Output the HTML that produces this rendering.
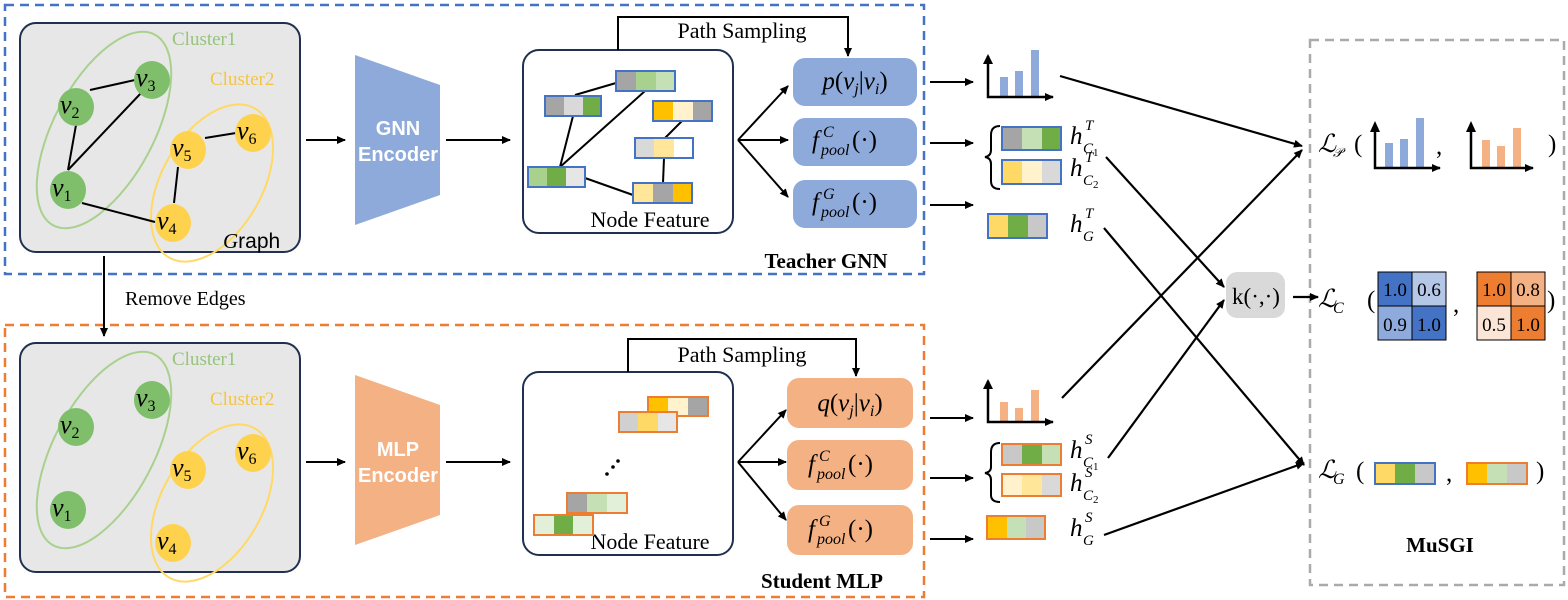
<!DOCTYPE html>
<html><head><meta charset="utf-8"><style>
html,body{margin:0;padding:0;background:#fff}
svg{display:block}
text{font-family:"Liberation Serif","DejaVu Serif",serif}
.it{font-style:italic}
.sans{font-family:"Liberation Sans",sans-serif}
</style></head><body>
<svg width="1568" height="600" viewBox="0 0 1568 600" xmlns="http://www.w3.org/2000/svg">
<defs>
<marker id="ar" markerWidth="10" markerHeight="10" refX="8" refY="5" orient="auto" markerUnits="userSpaceOnUse"><path d="M0,1 L9,5 L0,9 Z" fill="#000"/></marker>
</defs>

<rect x="5" y="5" width="919" height="269" fill="none" stroke="#4472c4" stroke-width="2.5" stroke-dasharray="9,6"/>
<rect x="5" y="325" width="919" height="272" fill="none" stroke="#ed7d31" stroke-width="2.5" stroke-dasharray="9,6"/>
<rect x="1310" y="40" width="254" height="545" fill="none" stroke="#aaa" stroke-width="2.5" stroke-dasharray="9,6"/>

<!-- Teacher graph -->
<rect x="20" y="23" width="280" height="229" rx="16" fill="#e7e7e7" stroke="#1f3050" stroke-width="2"/>
<ellipse cx="104" cy="130" rx="50" ry="108" transform="rotate(28 104 130)" fill="none" stroke="#a9d18e" stroke-width="2"/>
<ellipse cx="212" cy="183" rx="50" ry="86" transform="rotate(30 212 183)" fill="none" stroke="#ffd966" stroke-width="2"/>
<text x="172" y="45" font-size="19" fill="#95c47a">Cluster1</text>
<text x="210" y="85" font-size="19" fill="#f5c540">Cluster2</text>
<g stroke="#000" stroke-width="2">
<line x1="90" y1="90" x2="135" y2="80"/><line x1="76" y1="125" x2="68" y2="170"/><line x1="68" y1="170" x2="142" y2="92"/>
<line x1="82" y1="203" x2="155" y2="222"/><line x1="178" y1="167" x2="174" y2="203"/><line x1="205" y1="138" x2="236" y2="133"/>
</g>
<g fill="#7fbf6b"><ellipse cx="76" cy="107" rx="18" ry="19"/><ellipse cx="152" cy="80" rx="18" ry="19"/><ellipse cx="68" cy="190" rx="18" ry="19"/></g>
<g fill="#ffd24d"><ellipse cx="188" cy="150" rx="18" ry="19"/><ellipse cx="253" cy="133" rx="18" ry="19"/><ellipse cx="173" cy="223" rx="18" ry="19"/></g>
<g font-size="26" class="it">
<text x="60" y="113">v<tspan font-size="16" dy="5" font-style="normal">2</tspan></text>
<text x="136" y="86">v<tspan font-size="16" dy="5" font-style="normal">3</tspan></text>
<text x="52" y="196">v<tspan font-size="16" dy="5" font-style="normal">1</tspan></text>
<text x="172" y="156">v<tspan font-size="16" dy="5" font-style="normal">5</tspan></text>
<text x="237" y="139">v<tspan font-size="16" dy="5" font-style="normal">6</tspan></text>
<text x="157" y="229">v<tspan font-size="16" dy="5" font-style="normal">4</tspan></text>
</g>
<text x="223" y="248" font-size="21" class="sans"><tspan class="it" font-family="Liberation Serif">G</tspan>raph</text>

<!-- Student graph -->
<rect x="20" y="343" width="280" height="229" rx="16" fill="#e7e7e7" stroke="#1f3050" stroke-width="2"/>
<ellipse cx="104" cy="450" rx="50" ry="108" transform="rotate(28 104 450)" fill="none" stroke="#a9d18e" stroke-width="2"/>
<ellipse cx="212" cy="503" rx="50" ry="86" transform="rotate(30 212 503)" fill="none" stroke="#ffd966" stroke-width="2"/>
<text x="172" y="365" font-size="19" fill="#95c47a">Cluster1</text>
<text x="210" y="405" font-size="19" fill="#f5c540">Cluster2</text>
<g fill="#7fbf6b"><ellipse cx="76" cy="427" rx="18" ry="19"/><ellipse cx="152" cy="400" rx="18" ry="19"/><ellipse cx="68" cy="510" rx="18" ry="19"/></g>
<g fill="#ffd24d"><ellipse cx="188" cy="470" rx="18" ry="19"/><ellipse cx="253" cy="453" rx="18" ry="19"/><ellipse cx="173" cy="543" rx="18" ry="19"/></g>
<g font-size="26" class="it">
<text x="60" y="433">v<tspan font-size="16" dy="5" font-style="normal">2</tspan></text>
<text x="136" y="406">v<tspan font-size="16" dy="5" font-style="normal">3</tspan></text>
<text x="52" y="516">v<tspan font-size="16" dy="5" font-style="normal">1</tspan></text>
<text x="172" y="476">v<tspan font-size="16" dy="5" font-style="normal">5</tspan></text>
<text x="237" y="459">v<tspan font-size="16" dy="5" font-style="normal">6</tspan></text>
<text x="157" y="549">v<tspan font-size="16" dy="5" font-style="normal">4</tspan></text>
</g>

<line x1="104" y1="256" x2="104" y2="336" stroke="#000" stroke-width="2" marker-end="url(#ar)"/>
<text x="125" y="305" font-size="20">Remove Edges</text>

<!-- encoders -->
<polygon points="355,55 440,85 440,195 355,225" fill="#8eaadb"/>
<text x="398" y="135" font-size="20" font-weight="bold" fill="#fff" text-anchor="middle" class="sans">GNN</text>
<text x="398" y="161" font-size="20" font-weight="bold" fill="#fff" text-anchor="middle" class="sans">Encoder</text>
<polygon points="355,375 440,405 440,515 355,545" fill="#f4b183"/>
<text x="398" y="456" font-size="20" font-weight="bold" fill="#fff" text-anchor="middle" class="sans">MLP</text>
<text x="398" y="482" font-size="20" font-weight="bold" fill="#fff" text-anchor="middle" class="sans">Encoder</text>

<g stroke="#000" stroke-width="2" marker-end="url(#ar)">
<line x1="306" y1="140" x2="345" y2="140"/><line x1="446" y1="140" x2="510" y2="140"/>
<line x1="306" y1="462" x2="345" y2="462"/><line x1="446" y1="462" x2="510" y2="462"/>
</g>

<rect x="523" y="50" width="210" height="183" rx="16" fill="#fff" stroke="#1f3050" stroke-width="2"/>
<rect x="523" y="372" width="210" height="183" rx="16" fill="#fff" stroke="#1f3050" stroke-width="2"/>
<text x="650" y="227" font-size="22" text-anchor="middle">Node Feature</text>
<text x="650" y="549" font-size="22" text-anchor="middle">Node Feature</text>

<g stroke="#000" stroke-width="2">
<line x1="575" y1="95" x2="616" y2="83"/><line x1="573" y1="116" x2="560" y2="167"/><line x1="560" y1="167" x2="645" y2="91"/>
<line x1="682" y1="121" x2="665" y2="138"/><line x1="664" y1="158" x2="663" y2="183"/><line x1="585" y1="178" x2="633" y2="195"/>
</g>
<rect x="616" y="71" width="20" height="20" fill="#a5a5a5"/><rect x="636" y="71" width="20" height="20" fill="#a9d18e"/><rect x="656" y="71" width="19" height="20" fill="#c5e0b4"/>
<rect x="545" y="96" width="19" height="20" fill="#a5a5a5"/><rect x="564" y="96" width="19" height="20" fill="#d9d9d9"/><rect x="583" y="96" width="18" height="20" fill="#70ad47"/>
<rect x="653" y="101" width="20" height="20" fill="#ffc000"/><rect x="673" y="101" width="20" height="20" fill="#fff2cc"/><rect x="693" y="101" width="19" height="20" fill="#a5a5a5"/>
<rect x="635" y="138" width="19" height="20" fill="#d9d9d9"/><rect x="654" y="138" width="20" height="20" fill="#ffe699"/><rect x="674" y="138" width="19" height="20" fill="#fff"/>
<rect x="528" y="167" width="19" height="20" fill="#a9d18e"/><rect x="547" y="167" width="19" height="20" fill="#70ad47"/><rect x="566" y="167" width="19" height="20" fill="#e7e6e6"/>
<rect x="633" y="183" width="20" height="20" fill="#ffe699"/><rect x="653" y="183" width="20" height="20" fill="#a5a5a5"/><rect x="673" y="183" width="19" height="20" fill="#ffc000"/>
<g fill="none" stroke="#4472c4" stroke-width="2">
<rect x="616" y="71" width="59" height="20"/><rect x="545" y="96" width="56" height="20"/><rect x="653" y="101" width="59" height="20"/>
<rect x="635" y="138" width="58" height="20"/><rect x="528" y="167" width="57" height="20"/><rect x="633" y="183" width="59" height="20"/>
</g>

<rect x="648" y="397" width="20" height="19" fill="#ffc000"/><rect x="668" y="397" width="20" height="19" fill="#fff2cc"/><rect x="688" y="397" width="20" height="19" fill="#a5a5a5"/>
<rect x="648" y="397" width="60" height="19" fill="none" stroke="#ed7d31" stroke-width="2"/>
<rect x="619" y="412" width="19" height="20" fill="#d0d0d0"/><rect x="638" y="412" width="20" height="20" fill="#ffd966"/><rect x="658" y="412" width="19" height="20" fill="#e6e6e6"/>
<rect x="619" y="412" width="58" height="20" fill="none" stroke="#ed7d31" stroke-width="2"/>
<circle cx="618" cy="461" r="1.8"/><circle cx="613" cy="467" r="1.8"/><circle cx="607" cy="474" r="1.8"/>
<rect x="567" y="493" width="20" height="20" fill="#a5a5a5"/><rect x="587" y="493" width="20" height="20" fill="#c5e0b4"/><rect x="607" y="493" width="20" height="20" fill="#e2f0d9"/>
<rect x="567" y="493" width="60" height="20" fill="none" stroke="#ed7d31" stroke-width="2"/>
<rect x="534" y="515" width="20" height="20" fill="#e2f0d9"/><rect x="554" y="515" width="19" height="20" fill="#70ad47"/><rect x="573" y="515" width="20" height="20" fill="#e2f0d9"/>
<rect x="534" y="515" width="59" height="20" fill="none" stroke="#ed7d31" stroke-width="2"/>

<polyline points="618,50 618,17 848,17 848,56" fill="none" stroke="#000" stroke-width="2" marker-end="url(#ar)"/>
<text x="742" y="38" font-size="22" text-anchor="middle">Path Sampling</text>
<polyline points="628,372 628,339 856,339 856,376" fill="none" stroke="#000" stroke-width="2" marker-end="url(#ar)"/>
<text x="742" y="362" font-size="22" text-anchor="middle">Path Sampling</text>

<g stroke="#000" stroke-width="2" marker-end="url(#ar)">
<line x1="738" y1="140" x2="788" y2="86"/><line x1="738" y1="140" x2="788" y2="140"/><line x1="738" y1="140" x2="788" y2="197"/>
<line x1="738" y1="462" x2="786" y2="410"/><line x1="738" y1="462" x2="786" y2="462"/><line x1="738" y1="462" x2="786" y2="520"/>
</g>

<rect x="793" y="58" width="124" height="48" rx="12" fill="#8eaadb"/>
<rect x="793" y="118" width="124" height="48" rx="12" fill="#8eaadb"/>
<rect x="793" y="180" width="124" height="48" rx="12" fill="#8eaadb"/>
<rect x="787" y="378" width="126" height="50" rx="12" fill="#f4b183"/>
<rect x="787" y="440" width="126" height="50" rx="12" fill="#f4b183"/>
<rect x="787" y="505" width="126" height="50" rx="12" fill="#f4b183"/>
<g font-size="25">
<text x="855" y="89" text-anchor="middle"><tspan class="it">p</tspan>(<tspan class="it">v</tspan><tspan class="it" font-size="16" dy="5">j</tspan><tspan dy="-5">|</tspan><tspan class="it">v</tspan><tspan class="it" font-size="16" dy="5">i</tspan><tspan dy="-5">)</tspan></text>
<text x="850" y="411" text-anchor="middle"><tspan class="it">q</tspan>(<tspan class="it">v</tspan><tspan class="it" font-size="16" dy="5">j</tspan><tspan dy="-5">|</tspan><tspan class="it">v</tspan><tspan class="it" font-size="16" dy="5">i</tspan><tspan dy="-5">)</tspan></text>
</g>
<g font-size="25">
<text x="812" y="148" class="it">f</text><text x="823" y="137" font-size="16" class="it">C</text><text x="821" y="155" font-size="16" class="it">pool</text><text x="852" y="148">(·)</text>
<text x="812" y="210" class="it">f</text><text x="823" y="199" font-size="16" class="it">G</text><text x="821" y="217" font-size="16" class="it">pool</text><text x="852" y="210">(·)</text>
<text x="808" y="472" class="it">f</text><text x="819" y="461" font-size="16" class="it">C</text><text x="817" y="479" font-size="16" class="it">pool</text><text x="848" y="472">(·)</text>
<text x="808" y="537" class="it">f</text><text x="819" y="526" font-size="16" class="it">G</text><text x="817" y="544" font-size="16" class="it">pool</text><text x="848" y="537">(·)</text>
</g>
<text x="826" y="268" font-size="21" font-weight="bold" text-anchor="middle">Teacher GNN</text>
<text x="822" y="588" font-size="21" font-weight="bold" text-anchor="middle">Student MLP</text>

<g stroke="#000" stroke-width="2" marker-end="url(#ar)">
<line x1="930" y1="82" x2="973" y2="82"/><line x1="930" y1="143" x2="973" y2="143"/><line x1="930" y1="205" x2="973" y2="205"/>
<line x1="930" y1="418" x2="973" y2="418"/><line x1="930" y1="478" x2="973" y2="478"/><line x1="930" y1="539" x2="973" y2="539"/>
</g>

<rect x="1000" y="77" width="8" height="19" fill="#8eaadb"/><rect x="1015" y="71" width="8" height="25" fill="#8eaadb"/><rect x="1031" y="50" width="8" height="46" fill="#8eaadb"/>
<polyline points="988,56 988,97 1053,97" fill="none" stroke="#000" stroke-width="2.5" marker-end="url(#ar)"/>
<path d="M983,64 L988,54 L993,64 Z"/>
<rect x="1000" y="402" width="8" height="19" fill="#f4b183"/><rect x="1015" y="408" width="8" height="13" fill="#f4b183"/><rect x="1031" y="390" width="8" height="31" fill="#f4b183"/>
<polyline points="988,381 988,422 1053,422" fill="none" stroke="#000" stroke-width="2.5" marker-end="url(#ar)"/>
<path d="M983,389 L988,379 L993,389 Z"/>

<path d="M1000,126 Q991,126 991,135 L991,150 Q991,156 985,157 Q991,158 991,164 L991,181 Q991,189 1000,189" fill="none" stroke="#000" stroke-width="2"/>
<path d="M1000,443 Q991,443 991,452 L991,467 Q991,472 985,473 Q991,474 991,480 L991,495 Q991,502 1000,502" fill="none" stroke="#000" stroke-width="2"/>

<rect x="1002" y="127" width="20" height="23" fill="#a5a5a5"/><rect x="1022" y="127" width="20" height="23" fill="#c5e0b4"/><rect x="1042" y="127" width="19" height="23" fill="#70ad47"/>
<rect x="1002" y="127" width="59" height="23" fill="none" stroke="#4472c4" stroke-width="2"/>
<rect x="1002" y="160" width="20" height="24" fill="#ffd966"/><rect x="1022" y="160" width="20" height="24" fill="#fff2cc"/><rect x="1042" y="160" width="19" height="24" fill="#d9d9d9"/>
<rect x="1002" y="160" width="59" height="24" fill="none" stroke="#4472c4" stroke-width="2"/>
<rect x="988" y="214" width="20" height="24" fill="#ffd966"/><rect x="1008" y="214" width="20" height="24" fill="#70ad47"/><rect x="1028" y="214" width="19" height="24" fill="#c8c8c8"/>
<rect x="988" y="214" width="59" height="24" fill="none" stroke="#4472c4" stroke-width="2"/>

<rect x="1002" y="444" width="20" height="21" fill="#c8c8c8"/><rect x="1022" y="444" width="20" height="21" fill="#70ad47"/><rect x="1042" y="444" width="19" height="21" fill="#c5e0b4"/>
<rect x="1002" y="444" width="59" height="21" fill="none" stroke="#ed7d31" stroke-width="2"/>
<rect x="1002" y="474" width="20" height="22" fill="#fff2cc"/><rect x="1022" y="474" width="20" height="22" fill="#ffe699"/><rect x="1042" y="474" width="19" height="22" fill="#d9d9d9"/>
<rect x="1002" y="474" width="59" height="22" fill="none" stroke="#ed7d31" stroke-width="2"/>
<rect x="987" y="516" width="20" height="23" fill="#ffc000"/><rect x="1007" y="516" width="19" height="23" fill="#c5e0b4"/><rect x="1026" y="516" width="19" height="23" fill="#c8c8c8"/>
<rect x="987" y="516" width="58" height="23" fill="none" stroke="#ed7d31" stroke-width="2"/>

<!-- h labels -->
<g class="it">
<text x="1070" y="144" font-size="25">h</text><text x="1085" y="130" font-size="15">T</text><text x="1083" y="153" font-size="15">C<tspan font-size="11" dy="3" font-style="normal">1</tspan></text>
<text x="1070" y="176" font-size="25">h</text><text x="1085" y="162" font-size="15">T</text><text x="1083" y="185" font-size="15">C<tspan font-size="11" dy="3" font-style="normal">2</tspan></text>
<text x="1070" y="232" font-size="25">h</text><text x="1085" y="218" font-size="15">T</text><text x="1083" y="241" font-size="15">G</text>
<text x="1070" y="458" font-size="25">h</text><text x="1085" y="444" font-size="15">S</text><text x="1083" y="467" font-size="15">C<tspan font-size="11" dy="3" font-style="normal">1</tspan></text>
<text x="1070" y="491" font-size="25">h</text><text x="1085" y="477" font-size="15">S</text><text x="1083" y="500" font-size="15">C<tspan font-size="11" dy="3" font-style="normal">2</tspan></text>
<text x="1070" y="536" font-size="25">h</text><text x="1085" y="522" font-size="15">S</text><text x="1083" y="545" font-size="15">G</text>
</g>

<g stroke="#000" stroke-width="2.2" marker-end="url(#ar)">
<line x1="1060" y1="76" x2="1302" y2="146"/>
<line x1="1062" y1="398" x2="1302" y2="150"/>
<line x1="1106" y1="157" x2="1224" y2="287"/>
<line x1="1108" y1="458" x2="1224" y2="300"/>
<line x1="1104" y1="228" x2="1304" y2="465"/>
<line x1="1104" y1="535" x2="1304" y2="463"/>
<line x1="1293" y1="297" x2="1318" y2="297"/>
</g>
<rect x="1226" y="272" width="59" height="46" rx="11" fill="#d9d9d9"/>
<text x="1256" y="304" font-size="23" text-anchor="middle">k(·,·)</text>

<g font-size="25">
<text x="1318" y="152" class="it">ℒ</text><text x="1333" y="157" font-size="13" class="it">𝒫</text>
<text x="1354" y="152">(</text>
<text x="1436" y="154">,</text>
<text x="1548" y="152">)</text>
<text x="1318" y="307" class="it">ℒ</text><text x="1333" y="313" font-size="16" class="it">C</text>
<text x="1367" y="308">(</text>
<text x="1453" y="312">,</text>
<text x="1547" y="308">)</text>
<text x="1318" y="478" class="it">ℒ</text><text x="1333" y="484" font-size="16" class="it">G</text>
<text x="1356" y="479">(</text>
<text x="1446" y="481">,</text>
<text x="1536" y="479">)</text>
</g>
<rect x="1385" y="143" width="8" height="25" fill="#8eaadb"/><rect x="1400" y="139" width="8" height="29" fill="#8eaadb"/><rect x="1416" y="118" width="8" height="50" fill="#8eaadb"/>
<polyline points="1375,124 1375,168 1440,168" fill="none" stroke="#000" stroke-width="2.5" marker-end="url(#ar)"/><path d="M1370,132 L1375,121 L1380,132 Z"/>
<rect x="1482" y="140" width="8" height="28" fill="#f4b183"/><rect x="1497" y="146" width="8" height="22" fill="#f4b183"/><rect x="1513" y="128" width="8" height="40" fill="#f4b183"/>
<polyline points="1471,124 1471,168 1533,168" fill="none" stroke="#000" stroke-width="2.5" marker-end="url(#ar)"/><path d="M1466,132 L1471,121 L1476,132 Z"/>
<g font-size="19" text-anchor="middle">
<rect x="1378" y="272" width="34" height="34" fill="#4472c4" stroke="#000" stroke-width="1"/><rect x="1412" y="272" width="34" height="34" fill="#b4c7e7" stroke="#000" stroke-width="1"/>
<rect x="1378" y="306" width="34" height="34" fill="#8faadc" stroke="#000" stroke-width="1"/><rect x="1412" y="306" width="34" height="34" fill="#4472c4" stroke="#000" stroke-width="1"/>
<text x="1395" y="296">1.0</text><text x="1429" y="296">0.6</text><text x="1395" y="331">0.9</text><text x="1429" y="331">1.0</text>
<rect x="1477" y="272" width="34" height="34" fill="#ed7d31" stroke="#000" stroke-width="1"/><rect x="1511" y="272" width="34" height="34" fill="#f4b183" stroke="#000" stroke-width="1"/>
<rect x="1477" y="306" width="34" height="34" fill="#fbe5d6" stroke="#000" stroke-width="1"/><rect x="1511" y="306" width="34" height="34" fill="#ed7d31" stroke="#000" stroke-width="1"/>
<text x="1494" y="296">1.0</text><text x="1528" y="296">0.8</text><text x="1494" y="331">0.5</text><text x="1528" y="331">1.0</text>
</g>
<rect x="1375" y="463" width="20" height="21" fill="#ffd966"/><rect x="1395" y="463" width="20" height="21" fill="#70ad47"/><rect x="1415" y="463" width="20" height="21" fill="#c8c8c8"/>
<rect x="1375" y="463" width="60" height="21" fill="none" stroke="#4472c4" stroke-width="2"/>
<rect x="1467" y="463" width="20" height="21" fill="#ffc000"/><rect x="1487" y="463" width="20" height="21" fill="#c5e0b4"/><rect x="1507" y="463" width="20" height="21" fill="#c8c8c8"/>
<rect x="1467" y="463" width="60" height="21" fill="none" stroke="#ed7d31" stroke-width="2"/>
<text x="1440" y="552" font-size="21" font-weight="bold" text-anchor="middle">MuSGI</text>
</svg>
</body></html>
